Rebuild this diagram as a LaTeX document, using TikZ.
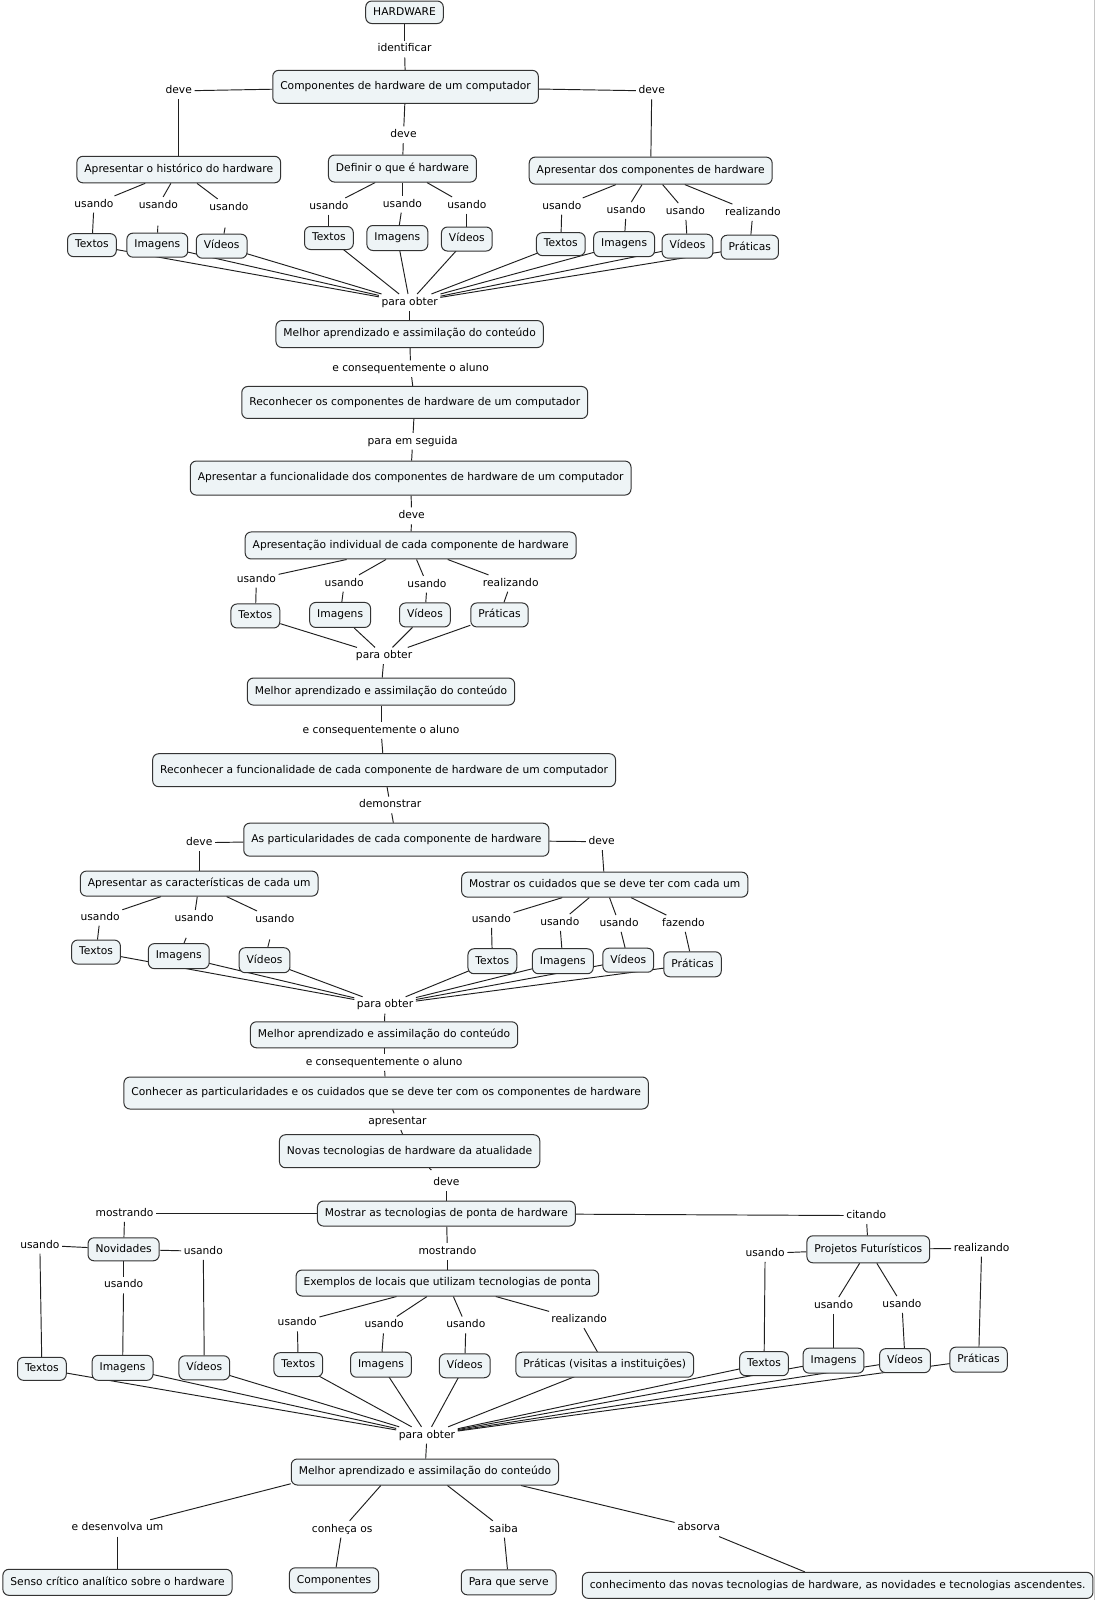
\documentclass[tikz,border=0pt]{standalone}
\usepackage{fontspec}
\setmainfont{DejaVu Sans}
\usetikzlibrary{backgrounds}
\definecolor{cfill}{HTML}{EEF4F6}
\definecolor{cline}{HTML}{333333}
\begin{document}
\begin{tikzpicture}[x=1.0215pt,y=-1.0215pt,
 every node/.style={font=\fontsize{10.7}{12}\selectfont, text=black},
 cbox/.style={draw=cline, fill=cfill, rounded corners=6pt, line width=1pt, inner xsep=7.5pt, inner ysep=0pt, minimum height=#1, text height=8pt, text depth=2.4pt},
 cbox/.default=24pt,
 lbl/.style={inner xsep=2.5pt, inner ysep=3pt, text height=8pt, text depth=2.4pt},
 ln/.style={draw=black!88, line width=0.95pt},
 tick/.style={ln, shorten <=12pt}]
\path[use as bounding box] (0,0) rectangle (1072.94,1566.32);

% ---------- section 1 ----------
\node[cbox=22.5pt] (hw) at (396,12) {HARDWARE};
\node[lbl] (l1) at (396,48) {identificar};
\node[cbox=33pt] (comp) at (397,85) {Componentes de hardware de um computador};
\node[lbl] (dL) at (175,89) {deve};
\node[lbl] (dR) at (638,89) {deve};
\node[lbl] (dC) at (395,132) {deve};
\node[cbox=26.5pt] (hist) at (175,166) {Apresentar o histórico do hardware};
\node[cbox=27pt] (defi) at (394,165) {Definir o que é hardware};
\node[cbox=27pt] (apd) at (637,167) {Apresentar dos componentes de hardware};

\node[lbl] (lh1) at (92,200) {usando};
\node[lbl] (lh2) at (155,201) {usando};
\node[lbl] (lh3) at (224,203) {usando};
\node[cbox=23pt] (th) at (90,240) {Textos};
\node[cbox=24pt] (ih) at (154,240) {Imagens};
\node[cbox=24pt] (vh) at (217,241) {Vídeos};

\node[lbl] (ld1) at (322,202) {usando};
\node[lbl] (ld2) at (394,200) {usando};
\node[lbl] (ld3) at (457,201) {usando};
\node[cbox=23pt] (td) at (322,233) {Textos};
\node[cbox=25pt] (id) at (389,233) {Imagens};
\node[cbox=24pt] (vd) at (457,234) {Vídeos};

\node[lbl] (la1) at (550,202) {usando};
\node[lbl] (la2) at (613,206) {usando};
\node[lbl] (la3) at (671,207) {usando};
\node[lbl] (la4) at (737,208) {realizando};
\node[cbox=23pt] (ta) at (549,239) {Textos};
\node[cbox=25pt] (ia) at (611,239) {Imagens};
\node[cbox=24pt] (va) at (673,241) {Vídeos};
\node[cbox=24pt] (pa) at (734,242) {Práticas};

\node[lbl] (po1) at (401,296) {para obter};
\node[cbox=27pt] (m1) at (401,327) {Melhor aprendizado e assimilação do conteúdo};
\node[lbl] (lc1) at (402,361) {e consequentemente o aluno};
\node[cbox=32pt] (rec1) at (406,394) {Reconhecer os componentes de hardware de um computador};
\node[lbl] (lpes) at (404,432) {para em seguida};
\node[cbox=34pt] (afunc) at (402,468) {Apresentar a funcionalidade dos componentes de hardware de um computador};
\node[lbl] (ldv2) at (403,505) {deve};
\node[cbox=27pt] (aind) at (402,534) {Apresentação individual de cada componente de hardware};

% ---------- section 2 ----------
\node[lbl] (li1) at (251,567) {usando};
\node[lbl] (li2) at (337,571) {usando};
\node[lbl] (li3) at (418,572) {usando};
\node[lbl] (li4) at (500,571) {realizando};
\node[cbox=24pt] (ti) at (250,603) {Textos};
\node[cbox=25pt] (ii) at (333,602) {Imagens};
\node[cbox=24pt] (vi) at (416,602) {Vídeos};
\node[cbox=24pt] (pi) at (489,602) {Práticas};
\node[lbl] (po2) at (376,642) {para obter};
\node[cbox=27pt] (m2) at (373,677) {Melhor aprendizado e assimilação do conteúdo};
\node[lbl] (lc2) at (373,715) {e consequentemente o aluno};
\node[cbox=33pt] (rfunc) at (376,754) {Reconhecer a funcionalidade de cada componente de hardware de um computador};
\node[lbl] (ldem) at (382,788) {demonstrar};
\node[cbox=33pt] (part) at (388,822) {As particularidades de cada componente de hardware};

% ---------- section 3 ----------
\node[lbl] (dvL) at (195,825) {deve};
\node[lbl] (dvR) at (589,824) {deve};
\node[cbox=25pt] (carac) at (195,865) {Apresentar as características de cada um};
\node[cbox=25pt] (cuid) at (592,866) {Mostrar os cuidados que se deve ter com cada um};

\node[lbl] (lk1) at (98,898) {usando};
\node[lbl] (lk2) at (190,899) {usando};
\node[lbl] (lk3) at (269,900) {usando};
\node[cbox=24pt] (tk) at (94,932) {Textos};
\node[cbox=25pt] (ik) at (175,936) {Imagens};
\node[cbox=25pt] (vk) at (259,940) {Vídeos};

\node[lbl] (lu1) at (481,900) {usando};
\node[lbl] (lu2) at (548,903) {usando};
\node[lbl] (lu3) at (606,904) {usando};
\node[lbl] (lu4) at (669,904) {fazendo};
\node[cbox=25pt] (tu) at (482,941) {Textos};
\node[cbox=25pt] (iu) at (551,941) {Imagens};
\node[cbox=24pt] (vu) at (615,940) {Vídeos};
\node[cbox=25pt] (pu) at (678,944) {Práticas};

\node[lbl] (po3) at (377,984) {para obter};
\node[cbox=26pt] (m3) at (376,1013) {Melhor aprendizado e assimilação do conteúdo};
\node[lbl] (lc3) at (376,1040) {e consequentemente o aluno};
\node[cbox=32pt] (conh) at (378,1070) {Conhecer as particularidades e os cuidados que se deve ter com os componentes de hardware};
\node[lbl] (lap) at (389,1098) {apresentar};
\node[cbox=33pt] (novas) at (401,1127) {Novas tecnologias de hardware da atualidade};
\node[lbl] (ldv3) at (437,1158) {deve};
\node[cbox=25pt] (mtec) at (437,1188) {Mostrar as tecnologias de ponta de hardware};

% ---------- section 4 ----------
\node[lbl] (lmL) at (122,1188) {mostrando};
\node[lbl] (lmC) at (438,1225) {mostrando};
\node[lbl] (lcit) at (848,1190) {citando};
\node[cbox=23pt] (nov) at (121,1223) {Novidades};
\node[lbl] (lnL) at (39,1219) {usando};
\node[lbl] (lnR) at (199,1225) {usando};
\node[lbl] (lnB) at (121,1258) {usando};
\node[cbox=23pt] (tn) at (41,1340) {Textos};
\node[cbox=25pt] (in) at (120,1339) {Imagens};
\node[cbox=24pt] (vn) at (200,1339) {Vídeos};

\node[cbox=26pt] (exem) at (438,1256) {Exemplos de locais que utilizam tecnologias de ponta};
\node[lbl] (le1) at (291,1295) {usando};
\node[lbl] (le2) at (376,1297) {usando};
\node[lbl] (le3) at (456,1297) {usando};
\node[lbl] (le4) at (567,1292) {realizando};
\node[cbox=24pt] (te) at (292,1336) {Textos};
\node[cbox=25pt] (ie) at (373,1336) {Imagens};
\node[cbox=24pt] (ve) at (455,1337) {Vídeos};
\node[cbox=25pt] (pe) at (592,1336) {Práticas (visitas a instituições)};

\node[cbox=27pt] (proj) at (850,1223) {Projetos Futurísticos};
\node[lbl] (lpL) at (749,1227) {usando};
\node[lbl] (lpR) at (961,1222) {realizando};
\node[lbl] (lp1) at (816,1278) {usando};
\node[lbl] (lp2) at (883,1277) {usando};
\node[cbox=24pt] (tp) at (748,1335) {Textos};
\node[cbox=25pt] (ip) at (816,1332) {Imagens};
\node[cbox=24pt] (vp) at (886,1332) {Vídeos};
\node[cbox=25pt] (pp) at (958,1331) {Práticas};

\node[lbl] (po4) at (418,1405) {para obter};
\node[cbox=26pt] (m4) at (416,1441) {Melhor aprendizado e assimilação do conteúdo};
\node[lbl] (lb1) at (115,1496) {e desenvolva um};
\node[lbl] (lb2) at (335,1497) {conheça os};
\node[lbl] (lb3) at (493,1497) {saiba};
\node[lbl] (lb4) at (684,1496) {absorva};
\node[cbox=26pt] (b1) at (115,1549) {Senso crítico analítico sobre o hardware};
\node[cbox=25pt] (b2) at (327,1547) {Componentes};
\node[cbox=25pt] (b3) at (498,1549) {Para que serve};
\node[cbox=26pt] (b4) at (820,1552) {conhecimento das novas tecnologias de hardware, as novidades e tecnologias ascendentes.};

% ---------- connectors (behind the boxes) ----------
\begin{scope}[on background layer]
\fill[white] (0,0) rectangle (1072.94,1566.32);
\draw[gray!45, line width=1pt] (1071.6,0) -- (1071.6,1566.32);
\draw[ln] (hw) -- (l1); \draw[ln] (l1) -- (comp);
\draw[ln] (comp) -- (dL); \draw[ln] (dL) -- (hist);
\draw[ln] (comp) -- (dR); \draw[ln] (dR) -- (apd);
\draw[ln] (comp) -- (dC); \draw[ln] (dC) -- (defi);
\draw[ln] (hist) -- (lh1); \draw[ln] (lh1) -- (th);
\draw[ln] (hist) -- (lh2); \draw[tick] (lh2) -- (ih);
\draw[ln] (hist) -- (lh3); \draw[tick] (lh3) -- (vh);
\draw[ln] (defi) -- (ld1); \draw[ln] (ld1) -- (td);
\draw[ln] (defi) -- (ld2); \draw[ln] (ld2) -- (id);
\draw[ln] (defi) -- (ld3); \draw[ln] (ld3) -- (vd);
\draw[ln] (apd) -- (la1); \draw[ln] (la1) -- (ta);
\draw[ln] (apd) -- (la2); \draw[ln] (la2) -- (ia);
\draw[ln] (apd) -- (la3); \draw[ln] (la3) -- (va);
\draw[ln] (apd) -- (la4); \draw[ln] (la4) -- (pa);
\foreach \n in {th,ih,vh,td,id,vd,ta,ia,va,pa} \draw[ln] (\n.center) -- (po1);
\draw[ln] (po1) -- (m1); \draw[ln] (m1) -- (lc1); \draw[ln] (lc1) -- (rec1);
\draw[ln] (rec1) -- (lpes); \draw[ln] (lpes) -- (afunc);
\draw[ln] (afunc) -- (ldv2); \draw[ln] (ldv2) -- (aind);
\draw[ln] (aind) -- (li1); \draw[ln] (li1) -- (ti);
\draw[ln] (aind) -- (li2); \draw[ln] (li2) -- (ii);
\draw[ln] (aind) -- (li3); \draw[ln] (li3) -- (vi);
\draw[ln] (aind) -- (li4); \draw[ln] (li4) -- (pi);
\foreach \n in {ti,ii,vi,pi} \draw[ln] (\n) -- (po2);
\draw[ln] (po2) -- (m2); \draw[ln] (m2) -- (lc2); \draw[ln] (lc2) -- (rfunc);
\draw[ln] (rfunc) -- (ldem); \draw[ln] (ldem) -- (part);
\draw[ln] (part) -- (dvL); \draw[ln] (dvL) -- (carac);
\draw[ln] (part) -- (dvR); \draw[ln] (dvR) -- (cuid);
\draw[ln] (carac) -- (lk1); \draw[ln] (lk1) -- (tk);
\draw[ln] (carac) -- (lk2); \draw[tick] (lk2) -- (ik);
\draw[ln] (carac) -- (lk3); \draw[tick] (lk3) -- (vk);
\draw[ln] (cuid) -- (lu1); \draw[ln] (lu1) -- (tu);
\draw[ln] (cuid) -- (lu2); \draw[ln] (lu2) -- (iu);
\draw[ln] (cuid) -- (lu3); \draw[ln] (lu3) -- (vu);
\draw[ln] (cuid) -- (lu4); \draw[ln] (lu4) -- (pu);
\foreach \n in {tk,ik,vk,tu,iu,vu,pu} \draw[ln] (\n.center) -- (po3);
\draw[ln] (po3) -- (m3); \draw[ln] (m3) -- (lc3); \draw[ln] (lc3) -- (conh);
\draw[ln] (conh) -- (lap); \draw[ln] (lap) -- (novas);
\draw[ln, shorten >=7pt] (novas) -- (ldv3); \draw[ln] (ldv3) -- (mtec);
\draw[ln] (mtec) -- (lmL); \draw[ln] (lmL) -- (nov);
\draw[ln] (mtec) -- (lmC); \draw[ln] (lmC) -- (exem);
\draw[ln] (mtec) -- (lcit); \draw[ln] (lcit) -- (proj);
\draw[ln] (nov) -- (lnL); \draw[ln] (lnL) -- (tn);
\draw[ln] (nov) -- (lnR); \draw[ln] (lnR) -- (vn);
\draw[ln] (nov) -- (lnB); \draw[ln] (lnB) -- (in);
\draw[ln] (exem) -- (le1); \draw[ln] (le1) -- (te);
\draw[ln] (exem) -- (le2); \draw[ln] (le2) -- (ie);
\draw[ln] (exem) -- (le3); \draw[ln] (le3) -- (ve);
\draw[ln] (exem) -- (le4); \draw[ln] (le4) -- (pe);
\draw[ln] (proj) -- (lpL); \draw[ln] (lpL) -- (tp);
\draw[ln] (proj) -- (lpR); \draw[ln] (lpR) -- (pp);
\draw[ln] (proj) -- (lp1); \draw[ln] (lp1) -- (ip);
\draw[ln] (proj) -- (lp2); \draw[ln] (lp2) -- (vp);
\foreach \n in {tn,in,vn,te,ie,ve,pe,tp,ip,vp,pp} \draw[ln] (\n.center) -- (po4);
\draw[ln] (po4) -- (m4);
\draw[ln] (m4.185) -- (lb1); \draw[ln] (lb1) -- (b1);
\draw[ln] (m4.197) -- (lb2); \draw[ln] (lb2) -- (b2);
\draw[ln] (m4.-31) -- (lb3); \draw[ln] (lb3) -- (b3);
\draw[ln] (m4.-8.5) -- (lb4); \draw[ln] (lb4) -- (b4);
\end{scope}
\end{tikzpicture}
\end{document}
